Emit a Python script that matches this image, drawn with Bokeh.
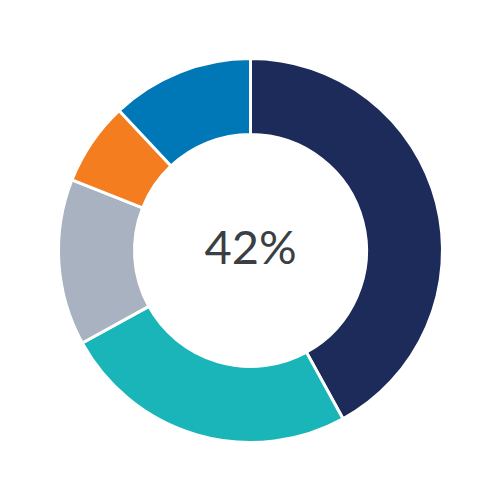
import numpy as np
from bokeh.plotting import figure
from bokeh.models import ColumnDataSource, Range1d
from bokeh.core.properties import value
from bokeh.embed import file_html
from bokeh.resources import INLINE

categories = ["A", "B", "C", "D", "E"]
shares = [42, 25, 14, 7, 12]
colors = ["#1c2b5a", "#1ab5b8", "#a8b2c1", "#f47d20", "#0077b6"]
center_label = "42%"

fracs = np.array(shares, dtype=float) / sum(shares)
ends = np.cumsum(fracs) * 2 * np.pi
starts = np.concatenate([[0.0], ends[:-1]])
# clockwise from top
start_angle = np.pi / 2 - starts
end_angle = np.pi / 2 - ends

src = ColumnDataSource(dict(cat=categories, start=start_angle, end=end_angle, color=colors))

W = 484
p = figure(width=W, height=W, output_backend="svg", toolbar_location=None,
           x_range=Range1d(-250, 234), y_range=Range1d(-234, 250),
           min_border=0, outline_line_color=None)
p.axis.visible = False
p.grid.visible = False
p.background_fill_color = "white"
p.border_fill_color = "white"

p.annular_wedge(x=0, y=0, inner_radius=116, outer_radius=192,
                start_angle="start", end_angle="end", direction="clock",
                fill_color="color", line_color="white", line_width=3, source=src)

p.text(x=[0], y=[5], text=[center_label], text_align="center", text_baseline="middle",
       text_font=value("Lato"), text_font_size="47px", text_color="#3a3f44")

open("out.html", "w").write(file_html(p, INLINE))
